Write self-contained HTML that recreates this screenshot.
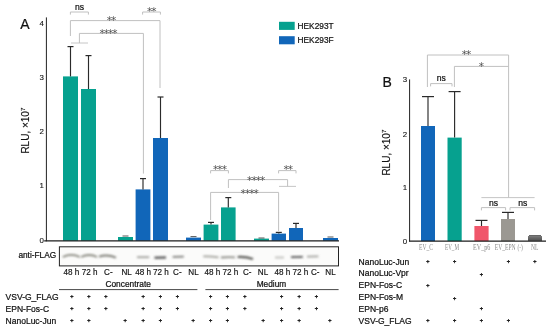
<!DOCTYPE html>
<html><head><meta charset="utf-8"><title>Figure</title>
<style>
html,body{margin:0;padding:0;background:#fff;}
svg{display:block;font-family:"Liberation Sans",Arial,sans-serif;}
</style></head><body>
<svg width="550" height="330" viewBox="0 0 550 330">
<rect width="550" height="330" fill="#fff"/>
<text x="20.3" y="28.8" font-size="14" text-anchor="start" fill="#111" stroke="#111" stroke-width="0.22" >A</text>
<rect x="63" y="76.4" width="15" height="164.4" fill="#06a18f"/>
<rect x="81" y="89" width="15" height="151.8" fill="#06a18f"/>
<rect x="118" y="237" width="15" height="3.8000000000000114" fill="#06a18f"/>
<rect x="135.6" y="189.4" width="14.8" height="51.400000000000006" fill="#1166b9"/>
<rect x="153" y="138" width="15" height="102.80000000000001" fill="#1166b9"/>
<rect x="186" y="237.6" width="15" height="3.200000000000017" fill="#1166b9"/>
<rect x="203.6" y="224.6" width="14.8" height="16.200000000000017" fill="#06a18f"/>
<rect x="221" y="207.4" width="14.6" height="33.400000000000006" fill="#06a18f"/>
<rect x="254" y="238.6" width="15" height="2.200000000000017" fill="#06a18f"/>
<rect x="271.6" y="233.6" width="14.4" height="7.200000000000017" fill="#1166b9"/>
<rect x="289" y="228" width="14" height="12.800000000000011" fill="#1166b9"/>
<rect x="323" y="238" width="15" height="2.8000000000000114" fill="#1166b9"/>
<line x1="70.5" y1="46.6" x2="70.5" y2="76.4" stroke="#2a2a2a" stroke-width="1.15"/>
<line x1="67.5" y1="46.6" x2="73.5" y2="46.6" stroke="#2a2a2a" stroke-width="1.2"/>
<line x1="88.5" y1="55.6" x2="88.5" y2="89" stroke="#2a2a2a" stroke-width="1.15"/>
<line x1="85.5" y1="55.6" x2="91.5" y2="55.6" stroke="#2a2a2a" stroke-width="1.2"/>
<line x1="122.5" y1="236" x2="128.5" y2="236" stroke="#444" stroke-width="0.9"/>
<line x1="143.0" y1="178.6" x2="143.0" y2="189.4" stroke="#2a2a2a" stroke-width="1.15"/>
<line x1="140.0" y1="178.6" x2="146.0" y2="178.6" stroke="#2a2a2a" stroke-width="1.2"/>
<line x1="160.5" y1="97" x2="160.5" y2="138" stroke="#2a2a2a" stroke-width="1.15"/>
<line x1="157.5" y1="97" x2="163.5" y2="97" stroke="#2a2a2a" stroke-width="1.2"/>
<line x1="190.5" y1="236.6" x2="196.5" y2="236.6" stroke="#444" stroke-width="0.9"/>
<line x1="211.0" y1="222.4" x2="211.0" y2="224.6" stroke="#2a2a2a" stroke-width="1.15"/>
<line x1="208.0" y1="222.4" x2="214.0" y2="222.4" stroke="#2a2a2a" stroke-width="1.2"/>
<line x1="228.3" y1="197.6" x2="228.3" y2="207.4" stroke="#2a2a2a" stroke-width="1.15"/>
<line x1="225.3" y1="197.6" x2="231.3" y2="197.6" stroke="#2a2a2a" stroke-width="1.2"/>
<line x1="258.5" y1="238" x2="264.5" y2="238" stroke="#444" stroke-width="0.9"/>
<line x1="278.8" y1="232.4" x2="278.8" y2="233.6" stroke="#2a2a2a" stroke-width="1.15"/>
<line x1="275.8" y1="232.4" x2="281.8" y2="232.4" stroke="#2a2a2a" stroke-width="1.2"/>
<line x1="296.0" y1="223.4" x2="296.0" y2="228" stroke="#2a2a2a" stroke-width="1.15"/>
<line x1="293.0" y1="223.4" x2="299.0" y2="223.4" stroke="#2a2a2a" stroke-width="1.2"/>
<line x1="327.5" y1="237" x2="333.5" y2="237" stroke="#444" stroke-width="0.9"/>
<line x1="46.4" y1="17.4" x2="46.4" y2="241.3" stroke="#222" stroke-width="1"/>
<line x1="44.2" y1="240.8" x2="339" y2="240.8" stroke="#1c1c1c" stroke-width="1.25"/>
<text x="43.9" y="26.099999999999998" font-size="7.9" text-anchor="end" fill="#111" stroke="#111" stroke-width="0.1" >4</text>
<text x="43.9" y="80.10000000000001" font-size="7.9" text-anchor="end" fill="#111" stroke="#111" stroke-width="0.1" >3</text>
<text x="43.9" y="134.2" font-size="7.9" text-anchor="end" fill="#111" stroke="#111" stroke-width="0.1" >2</text>
<text x="43.9" y="188.29999999999998" font-size="7.9" text-anchor="end" fill="#111" stroke="#111" stroke-width="0.1" >1</text>
<text x="43.9" y="242.5" font-size="7.9" text-anchor="end" fill="#111" stroke="#111" stroke-width="0.1" >0</text>
<text transform="translate(29.2,153.6) rotate(-90)" font-size="10" fill="#111" stroke="#111" stroke-width="0.15">RLU, ×10<tspan font-size="6.2" dy="-4">7</tspan></text>
<text x="79.6" y="9.6" font-size="8.6" text-anchor="middle" fill="#111" stroke="#111" stroke-width="0.22" >ns</text>
<polyline points="70.4,14.6 70.4,12 88.4,12 88.4,14.6" fill="none" stroke="#c0c0c0" stroke-width="1"/>
<text x="151.20" y="14.81" font-size="10.6" text-anchor="middle" fill="#505050" letter-spacing="-1.0" font-family="'DejaVu Sans',sans-serif">**</text>
<polyline points="142.6,14.6 142.6,12 160.4,12 160.4,14.6" fill="none" stroke="#c0c0c0" stroke-width="1"/>
<polyline points="70.4,36 70.4,20.6 160,20.6 160,88" fill="none" stroke="#c0c0c0" stroke-width="1"/>
<text x="111.10" y="23.56" font-size="10.6" text-anchor="middle" fill="#505050" letter-spacing="-1.0" font-family="'DejaVu Sans',sans-serif">**</text>
<polyline points="79.4,43 79.4,33.4 143.4,33.4 143.4,173.6" fill="none" stroke="#c0c0c0" stroke-width="1"/>
<text x="108.05" y="36.86" font-size="10.6" text-anchor="middle" fill="#505050" letter-spacing="-1.0" font-family="'DejaVu Sans',sans-serif">****</text>
<line x1="71" y1="43" x2="88" y2="43" stroke="#c0c0c0" stroke-width="0.9"/>
<text x="219.50" y="172.51" font-size="10.6" text-anchor="middle" fill="#505050" letter-spacing="-1.0" font-family="'DejaVu Sans',sans-serif">***</text>
<polyline points="210.6,173.4 210.6,170.6 228.4,170.6 228.4,173.4" fill="none" stroke="#c0c0c0" stroke-width="1"/>
<text x="287.70" y="172.91" font-size="10.6" text-anchor="middle" fill="#505050" letter-spacing="-1.0" font-family="'DejaVu Sans',sans-serif">**</text>
<polyline points="278.6,173.4 278.6,170.6 296,170.6 296,173.4" fill="none" stroke="#c0c0c0" stroke-width="1"/>
<polyline points="228.4,188 228.4,179.6 287.6,179.6 287.6,186.4" fill="none" stroke="#c0c0c0" stroke-width="1"/>
<text x="255.70" y="183.51" font-size="10.6" text-anchor="middle" fill="#505050" letter-spacing="-1.0" font-family="'DejaVu Sans',sans-serif">****</text>
<line x1="279" y1="186.4" x2="296" y2="186.4" stroke="#c0c0c0" stroke-width="0.9"/>
<polyline points="210.6,220 210.6,192.4 278.6,192.4 278.6,231" fill="none" stroke="#c0c0c0" stroke-width="1"/>
<text x="249.20" y="196.51" font-size="10.6" text-anchor="middle" fill="#505050" letter-spacing="-1.0" font-family="'DejaVu Sans',sans-serif">****</text>
<rect x="279" y="21.8" width="15.7" height="8.1" fill="#06a18f"/>
<rect x="279" y="36.2" width="15.7" height="8.1" fill="#1166b9"/>
<text x="297.6" y="28.6" font-size="8.3" text-anchor="start" fill="#111" stroke="#111" stroke-width="0.22" >HEK293T</text>
<text x="297.6" y="43.2" font-size="8.3" text-anchor="start" fill="#111" stroke="#111" stroke-width="0.22" >HEK293F</text>
<rect x="59.4" y="246.8" width="279.1" height="19.1" fill="#fbfbfa" stroke="#222" stroke-width="1"/>
<defs><filter id="bl" filterUnits="userSpaceOnUse" x="50" y="240" width="300" height="40"><feGaussianBlur stdDeviation="0.8"/></filter></defs>
<path d="M62.8,257 Q71.3,252.80 79.8,257" fill="none" stroke="#85857c" stroke-width="1.9" filter="url(#bl)"/>
<path d="M81,257 Q89.1,253.00 97.2,257" fill="none" stroke="#8a8a80" stroke-width="1.8" filter="url(#bl)"/>
<path d="M99,256.6 Q107.5,254.10 116,257.6" fill="none" stroke="#7e7e76" stroke-width="2.0" filter="url(#bl)"/>
<path d="M137,257.2 Q143.1,257.20 149.2,257.2" fill="none" stroke="#9a9a96" stroke-width="1.7" filter="url(#bl)"/>
<path d="M154.5,257.7 Q160.25,257.60 166,257.5" fill="none" stroke="#666" stroke-width="2.6" filter="url(#bl)"/>
<path d="M172.7,256.9 Q178.25,256.80 183.8,256.7" fill="none" stroke="#7c7c78" stroke-width="1.8" filter="url(#bl)"/>
<path d="M203.3,256.4 Q210.9,256.10 218.5,257.4" fill="none" stroke="#a0a09a" stroke-width="1.7" filter="url(#bl)"/>
<path d="M221,257.5 Q228.0,256.80 235,257.3" fill="none" stroke="#8e8e88" stroke-width="1.8" filter="url(#bl)"/>
<path d="M237.6,257 Q245.3,256.40 253,259" fill="none" stroke="#5c5c58" stroke-width="2.2" filter="url(#bl)"/>
<path d="M275,257.5 Q279.5,257.50 284,257.5" fill="none" stroke="#c4c4c0" stroke-width="2.0" filter="url(#bl)"/>
<path d="M291,257.1 Q296.9,257.00 302.8,256.9" fill="none" stroke="#4e4e4e" stroke-width="1.9" filter="url(#bl)"/>
<path d="M307,256.6 Q312.7,256.50 318.4,256.4" fill="none" stroke="#a2a29e" stroke-width="1.6" filter="url(#bl)"/>
<text x="71.5" y="275.1" font-size="8.15" text-anchor="middle" fill="#111" stroke="#111" stroke-width="0.15" >48 h</text>
<text x="89.7" y="275.1" font-size="8.15" text-anchor="middle" fill="#111" stroke="#111" stroke-width="0.15" >72 h</text>
<text x="108.4" y="275.1" font-size="8.15" text-anchor="middle" fill="#111" stroke="#111" stroke-width="0.15" >C-</text>
<text x="126.7" y="275.1" font-size="8.15" text-anchor="middle" fill="#111" stroke="#111" stroke-width="0.15" >NL</text>
<text x="143.1" y="275.1" font-size="8.15" text-anchor="middle" fill="#111" stroke="#111" stroke-width="0.15" >48 h</text>
<text x="161" y="275.1" font-size="8.15" text-anchor="middle" fill="#111" stroke="#111" stroke-width="0.15" >72 h</text>
<text x="177.4" y="275.1" font-size="8.15" text-anchor="middle" fill="#111" stroke="#111" stroke-width="0.15" >C-</text>
<text x="193.5" y="275.1" font-size="8.15" text-anchor="middle" fill="#111" stroke="#111" stroke-width="0.15" >NL</text>
<text x="212.5" y="275.1" font-size="8.15" text-anchor="middle" fill="#111" stroke="#111" stroke-width="0.15" >48 h</text>
<text x="230.5" y="275.1" font-size="8.15" text-anchor="middle" fill="#111" stroke="#111" stroke-width="0.15" >72 h</text>
<text x="247.3" y="275.1" font-size="8.15" text-anchor="middle" fill="#111" stroke="#111" stroke-width="0.15" >C-</text>
<text x="263" y="275.1" font-size="8.15" text-anchor="middle" fill="#111" stroke="#111" stroke-width="0.15" >NL</text>
<text x="282.5" y="275.1" font-size="8.15" text-anchor="middle" fill="#111" stroke="#111" stroke-width="0.15" >48 h</text>
<text x="300.3" y="275.1" font-size="8.15" text-anchor="middle" fill="#111" stroke="#111" stroke-width="0.15" >72 h</text>
<text x="315.2" y="275.1" font-size="8.15" text-anchor="middle" fill="#111" stroke="#111" stroke-width="0.15" >C-</text>
<text x="330.5" y="275.1" font-size="8.15" text-anchor="middle" fill="#111" stroke="#111" stroke-width="0.15" >NL</text>
<text x="18.4" y="257.7" font-size="8.3" text-anchor="start" fill="#111" stroke="#111" stroke-width="0.22" >anti-FLAG</text>
<text x="128.2" y="287" font-size="8.35" text-anchor="middle" fill="#111" stroke="#111" stroke-width="0.22" >Concentrate</text>
<text x="271.45" y="287" font-size="8.3" text-anchor="middle" fill="#111" stroke="#111" stroke-width="0.22" >Medium</text>
<line x1="59" y1="289.6" x2="197.4" y2="289.6" stroke="#333" stroke-width="0.9"/>
<line x1="205.4" y1="289.6" x2="338.6" y2="289.6" stroke="#333" stroke-width="0.9"/>
<text x="5.6" y="300" font-size="8.5" text-anchor="start" fill="#111" stroke="#111" stroke-width="0.22" >VSV-G_FLAG</text>
<text x="72" y="298.29999999999995" font-size="5.6" text-anchor="middle" fill="#222" stroke="#222" stroke-width="0.4" >+</text>
<text x="89" y="298.29999999999995" font-size="5.6" text-anchor="middle" fill="#222" stroke="#222" stroke-width="0.4" >+</text>
<text x="106" y="298.29999999999995" font-size="5.6" text-anchor="middle" fill="#222" stroke="#222" stroke-width="0.4" >+</text>
<text x="143.2" y="298.29999999999995" font-size="5.6" text-anchor="middle" fill="#222" stroke="#222" stroke-width="0.4" >+</text>
<text x="160.3" y="298.29999999999995" font-size="5.6" text-anchor="middle" fill="#222" stroke="#222" stroke-width="0.4" >+</text>
<text x="177.3" y="298.29999999999995" font-size="5.6" text-anchor="middle" fill="#222" stroke="#222" stroke-width="0.4" >+</text>
<text x="210.7" y="298.29999999999995" font-size="5.6" text-anchor="middle" fill="#222" stroke="#222" stroke-width="0.4" >+</text>
<text x="227.5" y="298.29999999999995" font-size="5.6" text-anchor="middle" fill="#222" stroke="#222" stroke-width="0.4" >+</text>
<text x="244.8" y="298.29999999999995" font-size="5.6" text-anchor="middle" fill="#222" stroke="#222" stroke-width="0.4" >+</text>
<text x="281.7" y="298.29999999999995" font-size="5.6" text-anchor="middle" fill="#222" stroke="#222" stroke-width="0.4" >+</text>
<text x="299.1" y="298.29999999999995" font-size="5.6" text-anchor="middle" fill="#222" stroke="#222" stroke-width="0.4" >+</text>
<text x="316.3" y="298.29999999999995" font-size="5.6" text-anchor="middle" fill="#222" stroke="#222" stroke-width="0.4" >+</text>
<text x="5.6" y="311.8" font-size="8.5" text-anchor="start" fill="#111" stroke="#111" stroke-width="0.22" >EPN-Fos-C</text>
<text x="72" y="310.09999999999997" font-size="5.6" text-anchor="middle" fill="#222" stroke="#222" stroke-width="0.4" >+</text>
<text x="89" y="310.09999999999997" font-size="5.6" text-anchor="middle" fill="#222" stroke="#222" stroke-width="0.4" >+</text>
<text x="106" y="310.09999999999997" font-size="5.6" text-anchor="middle" fill="#222" stroke="#222" stroke-width="0.4" >+</text>
<text x="143.2" y="310.09999999999997" font-size="5.6" text-anchor="middle" fill="#222" stroke="#222" stroke-width="0.4" >+</text>
<text x="160.3" y="310.09999999999997" font-size="5.6" text-anchor="middle" fill="#222" stroke="#222" stroke-width="0.4" >+</text>
<text x="177.3" y="310.09999999999997" font-size="5.6" text-anchor="middle" fill="#222" stroke="#222" stroke-width="0.4" >+</text>
<text x="210.7" y="310.09999999999997" font-size="5.6" text-anchor="middle" fill="#222" stroke="#222" stroke-width="0.4" >+</text>
<text x="227.5" y="310.09999999999997" font-size="5.6" text-anchor="middle" fill="#222" stroke="#222" stroke-width="0.4" >+</text>
<text x="244.8" y="310.09999999999997" font-size="5.6" text-anchor="middle" fill="#222" stroke="#222" stroke-width="0.4" >+</text>
<text x="281.7" y="310.09999999999997" font-size="5.6" text-anchor="middle" fill="#222" stroke="#222" stroke-width="0.4" >+</text>
<text x="299.1" y="310.09999999999997" font-size="5.6" text-anchor="middle" fill="#222" stroke="#222" stroke-width="0.4" >+</text>
<text x="316.3" y="310.09999999999997" font-size="5.6" text-anchor="middle" fill="#222" stroke="#222" stroke-width="0.4" >+</text>
<text x="5.6" y="323.6" font-size="8.5" text-anchor="start" fill="#111" stroke="#111" stroke-width="0.22" >NanoLuc-Jun</text>
<text x="72" y="321.9" font-size="5.6" text-anchor="middle" fill="#222" stroke="#222" stroke-width="0.4" >+</text>
<text x="89" y="321.9" font-size="5.6" text-anchor="middle" fill="#222" stroke="#222" stroke-width="0.4" >+</text>
<text x="125.2" y="321.9" font-size="5.6" text-anchor="middle" fill="#222" stroke="#222" stroke-width="0.4" >+</text>
<text x="143.2" y="321.9" font-size="5.6" text-anchor="middle" fill="#222" stroke="#222" stroke-width="0.4" >+</text>
<text x="160.3" y="321.9" font-size="5.6" text-anchor="middle" fill="#222" stroke="#222" stroke-width="0.4" >+</text>
<text x="193.1" y="321.9" font-size="5.6" text-anchor="middle" fill="#222" stroke="#222" stroke-width="0.4" >+</text>
<text x="210.7" y="321.9" font-size="5.6" text-anchor="middle" fill="#222" stroke="#222" stroke-width="0.4" >+</text>
<text x="227.5" y="321.9" font-size="5.6" text-anchor="middle" fill="#222" stroke="#222" stroke-width="0.4" >+</text>
<text x="263.1" y="321.9" font-size="5.6" text-anchor="middle" fill="#222" stroke="#222" stroke-width="0.4" >+</text>
<text x="281.7" y="321.9" font-size="5.6" text-anchor="middle" fill="#222" stroke="#222" stroke-width="0.4" >+</text>
<text x="299.1" y="321.9" font-size="5.6" text-anchor="middle" fill="#222" stroke="#222" stroke-width="0.4" >+</text>
<text x="330" y="321.9" font-size="5.6" text-anchor="middle" fill="#222" stroke="#222" stroke-width="0.4" >+</text>
<text x="382.6" y="87" font-size="14" text-anchor="start" fill="#111" stroke="#111" stroke-width="0.22" >B</text>
<rect x="421" y="126" width="14" height="115.1" fill="#1166b9"/>
<rect x="447.5" y="137.6" width="14.2" height="103.5" fill="#06a18f"/>
<rect x="474.4" y="226" width="14.2" height="15.099999999999994" fill="#f0566a"/>
<rect x="501" y="219" width="14" height="22.099999999999994" fill="#9b9892"/>
<line x1="428.0" y1="96.6" x2="428.0" y2="126" stroke="#2a2a2a" stroke-width="1.15"/>
<line x1="422.0" y1="96.6" x2="434.0" y2="96.6" stroke="#2a2a2a" stroke-width="1.2"/>
<line x1="454.6" y1="91.6" x2="454.6" y2="137.6" stroke="#2a2a2a" stroke-width="1.15"/>
<line x1="448.6" y1="91.6" x2="460.6" y2="91.6" stroke="#2a2a2a" stroke-width="1.2"/>
<line x1="481.5" y1="220.4" x2="481.5" y2="226" stroke="#2a2a2a" stroke-width="1.15"/>
<line x1="475.5" y1="220.4" x2="487.5" y2="220.4" stroke="#2a2a2a" stroke-width="1.2"/>
<line x1="508.0" y1="212.4" x2="508.0" y2="219" stroke="#2a2a2a" stroke-width="1.15"/>
<line x1="502.0" y1="212.4" x2="514.0" y2="212.4" stroke="#2a2a2a" stroke-width="1.2"/>
<rect x="528" y="236.2" width="14" height="4.7" fill="#555"/>
<line x1="529" y1="235.5" x2="541" y2="235.5" stroke="#555" stroke-width="0.9"/>
<line x1="528" y1="237.4" x2="542" y2="237.4" stroke="#8a8a8a" stroke-width="0.5"/>
<line x1="528" y1="238.8" x2="542" y2="238.8" stroke="#8a8a8a" stroke-width="0.4"/>
<line x1="409.6" y1="79.4" x2="409.6" y2="241.6" stroke="#222" stroke-width="1"/>
<line x1="409.1" y1="241.1" x2="546" y2="241.1" stroke="#1c1c1c" stroke-width="1.3"/>
<text x="407.1" y="81.75" font-size="7.9" text-anchor="end" fill="#111" stroke="#111" stroke-width="0.1" >3</text>
<text x="407.1" y="136.75" font-size="7.9" text-anchor="end" fill="#111" stroke="#111" stroke-width="0.1" >2</text>
<text x="407.1" y="190.04999999999998" font-size="7.9" text-anchor="end" fill="#111" stroke="#111" stroke-width="0.1" >1</text>
<text x="407.1" y="243.95" font-size="7.9" text-anchor="end" fill="#111" stroke="#111" stroke-width="0.1" >0</text>
<text transform="translate(390.4,175.6) rotate(-90)" font-size="10" fill="#111" stroke="#111" stroke-width="0.15">RLU, ×10<tspan font-size="6.2" dy="-4">7</tspan></text>
<polyline points="427.4,87 427.4,55 508.6,55 508.6,197.6" fill="none" stroke="#c0c0c0" stroke-width="1"/>
<text x="466.10" y="58.16" font-size="10.6" text-anchor="middle" fill="#505050" letter-spacing="-1.0" font-family="'DejaVu Sans',sans-serif">**</text>
<polyline points="454.4,87 454.4,66.4 508.6,66.4" fill="none" stroke="#c0c0c0" stroke-width="1"/>
<text x="481.00" y="69.81" font-size="10.6" text-anchor="middle" fill="#505050" letter-spacing="-1.0" font-family="'DejaVu Sans',sans-serif">*</text>
<text x="441.3" y="81.4" font-size="8.6" text-anchor="middle" fill="#111" stroke="#111" stroke-width="0.22" >ns</text>
<polyline points="430.6,86.4 430.6,83.6 452,83.6 452,86.4" fill="none" stroke="#c0c0c0" stroke-width="1"/>
<line x1="481.4" y1="197.6" x2="534.6" y2="197.6" stroke="#c0c0c0" stroke-width="0.9"/>
<text x="493.5" y="206" font-size="8.6" text-anchor="middle" fill="#111" stroke="#111" stroke-width="0.22" >ns</text>
<polyline points="481.4,210.4 481.4,207.6 505.6,207.6 505.6,210.4" fill="none" stroke="#c0c0c0" stroke-width="1"/>
<text x="522.7" y="206" font-size="8.6" text-anchor="middle" fill="#111" stroke="#111" stroke-width="0.22" >ns</text>
<polyline points="510,210.4 510,207.6 534.6,207.6 534.6,210.4" fill="none" stroke="#c0c0c0" stroke-width="1"/>
<text x="419" y="249.9" font-size="8" fill="#8a8a8a" font-family="'Liberation Serif',serif" textLength="13.9" lengthAdjust="spacingAndGlyphs">EV_C</text>
<text x="445" y="249.9" font-size="8" fill="#8a8a8a" font-family="'Liberation Serif',serif" textLength="14.0" lengthAdjust="spacingAndGlyphs">EV_M</text>
<text x="473" y="249.9" font-size="8" fill="#8a8a8a" font-family="'Liberation Serif',serif" textLength="17.3" lengthAdjust="spacingAndGlyphs">EV_p6</text>
<text x="494.8" y="249.9" font-size="8" fill="#8a8a8a" font-family="'Liberation Serif',serif" textLength="20.8" lengthAdjust="spacingAndGlyphs">EV_EPN</text>
<text x="517.4" y="249.9" font-size="8" fill="#8a8a8a" font-family="'Liberation Serif',serif" textLength="5.3" lengthAdjust="spacingAndGlyphs">(-)</text>
<text x="531" y="249.9" font-size="8" fill="#8a8a8a" font-family="'Liberation Serif',serif" textLength="7.4" lengthAdjust="spacingAndGlyphs">NL</text>
<text x="358.6" y="264.5" font-size="8.5" text-anchor="start" fill="#111" stroke="#111" stroke-width="0.22" >NanoLuc-Jun</text>
<text x="427.9" y="262.79999999999995" font-size="5.6" text-anchor="middle" fill="#222" stroke="#222" stroke-width="0.4" >+</text>
<text x="454.6" y="262.79999999999995" font-size="5.6" text-anchor="middle" fill="#222" stroke="#222" stroke-width="0.4" >+</text>
<text x="508.3" y="262.79999999999995" font-size="5.6" text-anchor="middle" fill="#222" stroke="#222" stroke-width="0.4" >+</text>
<text x="535.0" y="262.79999999999995" font-size="5.6" text-anchor="middle" fill="#222" stroke="#222" stroke-width="0.4" >+</text>
<text x="358.6" y="276.3" font-size="8.5" text-anchor="start" fill="#111" stroke="#111" stroke-width="0.22" >NanoLuc-Vpr</text>
<text x="481.4" y="275.59999999999997" font-size="5.6" text-anchor="middle" fill="#222" stroke="#222" stroke-width="0.4" >+</text>
<text x="358.6" y="288.1" font-size="8.5" text-anchor="start" fill="#111" stroke="#111" stroke-width="0.22" >EPN-Fos-C</text>
<text x="427.9" y="287.09999999999997" font-size="5.6" text-anchor="middle" fill="#222" stroke="#222" stroke-width="0.4" >+</text>
<text x="358.6" y="299.9" font-size="8.5" text-anchor="start" fill="#111" stroke="#111" stroke-width="0.22" >EPN-Fos-M</text>
<text x="454.6" y="299.8999999999999" font-size="5.6" text-anchor="middle" fill="#222" stroke="#222" stroke-width="0.4" >+</text>
<text x="358.6" y="311.7" font-size="8.5" text-anchor="start" fill="#111" stroke="#111" stroke-width="0.22" >EPN-p6</text>
<text x="481.4" y="309.99999999999994" font-size="5.6" text-anchor="middle" fill="#222" stroke="#222" stroke-width="0.4" >+</text>
<text x="358.6" y="323.5" font-size="8.5" text-anchor="start" fill="#111" stroke="#111" stroke-width="0.22" >VSV-G_FLAG</text>
<text x="427.9" y="321.79999999999995" font-size="5.6" text-anchor="middle" fill="#222" stroke="#222" stroke-width="0.4" >+</text>
<text x="454.6" y="321.79999999999995" font-size="5.6" text-anchor="middle" fill="#222" stroke="#222" stroke-width="0.4" >+</text>
<text x="481.4" y="321.79999999999995" font-size="5.6" text-anchor="middle" fill="#222" stroke="#222" stroke-width="0.4" >+</text>
<text x="508.3" y="321.79999999999995" font-size="5.6" text-anchor="middle" fill="#222" stroke="#222" stroke-width="0.4" >+</text>
</svg>
</body></html>
